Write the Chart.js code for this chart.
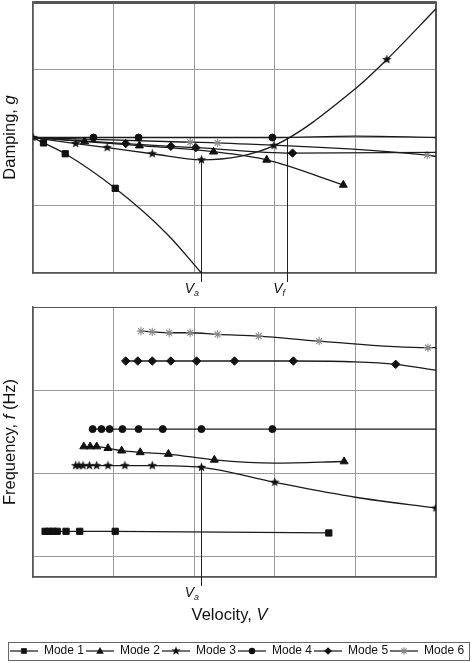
<!DOCTYPE html>
<html>
<head>
<meta charset="utf-8">
<script src="https://cdn.jsdelivr.net/npm/chart.js@4.4.1/dist/chart.umd.min.js"></script>
<style>
  html, body { margin: 0; padding: 0; background: #fff; overflow: hidden; }
  #page { position: relative; width: 474px; height: 663px; }
  .box { position: absolute; left: 0; width: 474px; }
  #dampBox { top: 0; height: 300px; }
  #freqBox { top: 300px; height: 367px; }
</style>
</head>
<body>
<div id="page">
  <div class="box" id="dampBox"><canvas id="dampingChart" width="474" height="300"></canvas></div>
  <div class="box" id="freqBox"><canvas id="frequencyChart" width="474" height="367"></canvas></div>
</div>
<script>
const modeNames = ['Mode 1', 'Mode 2', 'Mode 3', 'Mode 4', 'Mode 5', 'Mode 6'];

// damping g against velocity V, upper plot (marked points)
const dampMode1 = [[0.13, -0.08], [0.40, -0.24], [1.02, -0.75]];
const dampMode2 = [[0.64, -0.06], [1.32, -0.12], [2.24, -0.21], [2.90, -0.33], [3.85, -0.70]];
const dampMode3 = [[0, 0], [0.53, -0.09], [0.92, -0.15], [1.48, -0.24], [2.09, -0.33], [2.99, -0.12], [4.39, 1.15]];
const dampMode4 = [[0.75, 0], [1.31, 0], [2.97, 0]];
const dampMode5 = [[1.15, -0.09], [1.71, -0.13], [2.02, -0.15], [3.22, -0.23]];
const dampMode6 = [[1.95, -0.07], [2.29, -0.08], [4.89, -0.26]];
// points read off the same curves where they carry no marker
const dampMode1Path = [[0, 0], [1.66, -1.42], [2.09, -2.0]];
const dampMode2Path = [[0, 0]];
const dampMode3Path = [[4.0, 0.72], [5.0, 1.90]];
const dampMode4Path = [[0, 0], [4.0, 0.02], [5.0, 0]];
const dampMode5Path = [[0, 0], [5.0, -0.22]];
const dampMode6Path = [[0, 0], [5.0, -0.28]];

// frequency f against velocity V, lower plot
const freqMode1 = [[0.15, 0.30], [0.20, 0.30], [0.25, 0.30], [0.30, 0.30], [0.41, 0.30], [0.58, 0.30], [1.02, 0.30], [3.67, 0.28]];
const freqMode2 = [[0.63, 1.32], [0.71, 1.32], [0.79, 1.32], [0.93, 1.30], [1.10, 1.27], [1.33, 1.25], [1.68, 1.23], [2.25, 1.16], [3.86, 1.14]];
const freqMode3 = [[0.53, 1.09], [0.57, 1.09], [0.62, 1.09], [0.70, 1.09], [0.79, 1.09], [0.93, 1.09], [1.14, 1.09], [1.48, 1.09], [2.09, 1.07], [3.00, 0.89], [5.0, 0.58]];
const freqMode4 = [[0.74, 1.53], [0.85, 1.53], [0.95, 1.53], [1.11, 1.53], [1.31, 1.53], [1.61, 1.53], [2.09, 1.53], [2.97, 1.53]];
const freqMode5 = [[1.15, 2.35], [1.30, 2.35], [1.48, 2.35], [1.71, 2.35], [2.03, 2.35], [2.50, 2.35], [3.23, 2.35], [4.50, 2.31]];
const freqMode6 = [[1.34, 2.71], [1.48, 2.70], [1.69, 2.69], [1.95, 2.69], [2.29, 2.67], [2.80, 2.65], [3.55, 2.59], [4.90, 2.51]];
const freqMode1Path = [];
const freqMode2Path = [[3.0, 1.12]];
const freqMode3Path = [[4.0, 0.71]];
const freqMode4Path = [[5.0, 1.53]];
const freqMode5Path = [[4.0, 2.34], [5.0, 2.24]];
const freqMode6Path = [[5.0, 2.51]];

// aeroelastic speeds marked under the plots
const dropSpeed = [2.09, 3.15];
const dropSub = ['a', 'f'];
const dropDamping = [-0.33, 0];
const dropFrequency = [1.07];

const FONT = '"Liberation Sans", Arial, Helvetica, sans-serif';
const INK = '#111';
const GRID = '#9a9a9a';
const FRAME = '#555';
const ASTER = '#8a8a8a';

function drawMarker(g, mode, cx, cy, s) {
  g.fillStyle = INK;
  g.strokeStyle = INK;
  g.beginPath();
  if (mode === 0) {
    g.rect(cx - 3 * s, cy - 3 * s, 6 * s, 6 * s);
    g.fill();
  } else if (mode === 1) {
    g.moveTo(cx, cy - 4.2 * s);
    g.lineTo(cx + 4 * s, cy + 2.8 * s);
    g.lineTo(cx - 4 * s, cy + 2.8 * s);
    g.closePath();
    g.fill();
  } else if (mode === 2) {
    for (let i = 0; i < 10; i++) {
      const a = -Math.PI / 2 + i * Math.PI / 5;
      const r = i % 2 ? 2.1 * s : 5 * s;
      g.lineTo(cx + r * Math.cos(a), cy + r * Math.sin(a));
    }
    g.closePath();
    g.fill();
  } else if (mode === 3) {
    g.arc(cx, cy, 3.4 * s, 0, Math.PI * 2);
    g.fill();
  } else if (mode === 4) {
    g.moveTo(cx, cy - 4 * s);
    g.lineTo(cx + 4 * s, cy);
    g.lineTo(cx, cy + 4 * s);
    g.lineTo(cx - 4 * s, cy);
    g.closePath();
    g.fill();
  } else {
    g.strokeStyle = ASTER;
    g.lineWidth = 1.1;
    for (let i = 0; i < 4; i++) {
      const a = i * Math.PI / 4;
      g.moveTo(cx - 4 * s * Math.cos(a), cy - 4 * s * Math.sin(a));
      g.lineTo(cx + 4 * s * Math.cos(a), cy + 4 * s * Math.sin(a));
    }
    g.stroke();
  }
}

function makeIcon(mode, w, h, withLine, s) {
  const c = document.createElement('canvas');
  c.width = w;
  c.height = h;
  const g = c.getContext('2d');
  if (withLine) {
    g.strokeStyle = INK;
    g.lineWidth = 1.2;
    g.beginPath();
    g.moveTo(0, h / 2);
    g.lineTo(w, h / 2);
    g.stroke();
  }
  drawMarker(g, mode, w / 2, h / 2, s);
  return c;
}

const starImage = makeIcon(2, 11, 11, false, 1);
const legendIcons = modeNames.map((_, i) => makeIcon(i, 28, 12, true, 0.95));
const pointStyles = ['rect', 'triangle', starImage, 'circle', 'rectRot', 'star'];
const pointSizes = [4.4, 4.6, 5, 3.5, 4.2, 4.2];

function buildDatasets(marked, paths) {
  return marked.map((pts, i) => ({
    label: modeNames[i],
    data: pts.map(([x, y]) => ({x, y}))
      .concat(paths[i].map(([x, y]) => ({x, y, path: true})))
      .sort((a, b) => a.x - b.x),
    borderColor: '#1a1a1a',
    borderWidth: 1.3,
    pointStyle: pointStyles[i],
    pointRadius: ctx => (ctx.raw && ctx.raw.path ? 0 : pointSizes[i]),
    pointBackgroundColor: i === 5 ? ASTER : INK,
    pointBorderColor: i === 5 ? ASTER : INK,
    pointBorderWidth: i === 5 ? 1.1 : 1,
    cubicInterpolationMode: 'monotone',
    fill: false
  }));
}

function buildScales(yMin, yMax, xSpace) {
  return {
    x: {
      type: 'linear', min: 0, max: 5,
      ticks: {display: false, stepSize: 1},
      grid: {color: c => (c.tick && c.tick.value === 5 ? FRAME : GRID), drawTicks: false, lineWidth: 1},
      border: {color: FRAME, width: 1.5},
      afterFit: s => { s.height = xSpace; }
    },
    y: {
      type: 'linear', min: yMin, max: yMax,
      ticks: {display: false, stepSize: 1},
      grid: {color: c => (c.tick && c.tick.value === yMax ? FRAME : GRID), drawTicks: false, lineWidth: 1},
      border: {color: FRAME, width: 1.5},
      afterFit: s => { s.width = 33; }
    },
    y2: {
      type: 'linear', position: 'right',
      ticks: {display: false},
      grid: {display: false},
      border: {color: FRAME, width: 1.5},
      afterFit: s => { s.width = 38; }
    }
  };
}

function drawRich(ctx, parts, x, y, align) {
  let width = 0;
  parts.forEach(p => {
    ctx.font = `${p.italic ? 'italic ' : ''}${p.size}px ${FONT}`;
    width += ctx.measureText(p.t).width;
  });
  let cx = align === 'center' ? x - width / 2 : align === 'right' ? x - width : x;
  parts.forEach(p => {
    ctx.font = `${p.italic ? 'italic ' : ''}${p.size}px ${FONT}`;
    ctx.fillText(p.t, cx, y + (p.dy || 0));
    cx += ctx.measureText(p.t).width;
  });
}

const figureText = {
  id: 'figureText',
  beforeDatasetsDraw(chart, args, opts) {
    const {ctx, chartArea: area, scales: {x, y}} = chart;
    ctx.save();
    ctx.strokeStyle = '#222';
    ctx.lineWidth = 1;
    opts.drops.forEach(d => {
      const px = Math.round(x.getPixelForValue(d.v)) + 0.5;
      ctx.beginPath();
      ctx.moveTo(px, y.getPixelForValue(d.y));
      ctx.lineTo(px, area.bottom + 9);
      ctx.stroke();
    });
    ctx.restore();
  },
  afterDraw(chart, args, opts) {
    const {ctx, chartArea: area, scales: {x}} = chart;
    ctx.save();
    ctx.fillStyle = INK;
    ctx.textBaseline = 'alphabetic';
    opts.drops.forEach(d => {
      const px = Math.round(x.getPixelForValue(d.v));
      drawRich(ctx, [{t: 'V', size: 14, italic: true}, {t: d.sub, size: 9, italic: true, dy: 3}], px - 2, area.bottom + 20, 'right');
    });
    ctx.save();
    ctx.translate(15, (area.top + area.bottom) / 2);
    ctx.rotate(-Math.PI / 2);
    drawRich(ctx, opts.yTitle, 0, 0, 'center');
    ctx.restore();
    if (opts.xTitle) {
      drawRich(ctx, opts.xTitle, (area.left + area.right) / 2 - 5, area.bottom + 43, 'center');
    }
    const boxes = chart.legend && chart.legend.legendHitBoxes;
    if (chart.options.plugins.legend.display && boxes && boxes.length) {
      const first = boxes[0];
      const last = boxes[boxes.length - 1];
      ctx.strokeStyle = '#666';
      ctx.lineWidth = 1;
      ctx.strokeRect(Math.round(first.left - 2) + 0.5, Math.round(first.top - 3) + 0.5,
        Math.round(last.left + last.width - first.left + 7), Math.round(first.height + 6));
    }
    ctx.restore();
  }
};

function baseOptions(padTop) {
  return {
    responsive: false,
    animation: false,
    events: [],
    layout: {autoPadding: false, padding: {top: padTop, left: 0, right: 0, bottom: 0}},
    plugins: {tooltip: {enabled: false}, legend: {display: false}}
  };
}

const dampOptions = baseOptions(2);
dampOptions.scales = buildScales(-2, 2, 27);
dampOptions.scales.y.grid.lineWidth = c => (c.tick && c.tick.value === 2 ? 3 : 1);
dampOptions.plugins.figureText = {
  drops: dropSpeed.map((v, i) => ({v, y: dropDamping[i], sub: dropSub[i]})),
  yTitle: [{t: 'Damping, ', size: 16.5}, {t: 'g', size: 16.5, italic: true}]
};

new Chart(document.getElementById('dampingChart'), {
  type: 'line',
  data: {
    datasets: buildDatasets(
      [dampMode1, dampMode2, dampMode3, dampMode4, dampMode5, dampMode6],
      [dampMode1Path, dampMode2Path, dampMode3Path, dampMode4Path, dampMode5Path, dampMode6Path])
  },
  options: dampOptions,
  plugins: [figureText]
});

const freqOptions = baseOptions(7);
freqOptions.scales = buildScales(-0.25, 3, 66);
freqOptions.plugins.legend = {
  display: true,
  position: 'bottom',
  labels: {
    usePointStyle: true,
    pointStyleWidth: 28,
    padding: 2,
    color: INK,
    font: {family: FONT, size: 12},
    generateLabels: chart => Chart.defaults.plugins.legend.labels.generateLabels(chart)
      .map((item, i) => Object.assign(item, {pointStyle: legendIcons[i]}))
  }
};
freqOptions.plugins.figureText = {
  drops: [{v: dropSpeed[0], y: dropFrequency[0], sub: dropSub[0]}],
  yTitle: [{t: 'Frequency, ', size: 16.5}, {t: 'f', size: 16.5, italic: true}, {t: ' (Hz)', size: 16.5}],
  xTitle: [{t: 'Velocity, ', size: 16.5}, {t: 'V', size: 16.5, italic: true}]
};

new Chart(document.getElementById('frequencyChart'), {
  type: 'line',
  data: {
    datasets: buildDatasets(
      [freqMode1, freqMode2, freqMode3, freqMode4, freqMode5, freqMode6],
      [freqMode1Path, freqMode2Path, freqMode3Path, freqMode4Path, freqMode5Path, freqMode6Path])
  },
  options: freqOptions,
  plugins: [figureText]
});
</script>
</body>
</html>
